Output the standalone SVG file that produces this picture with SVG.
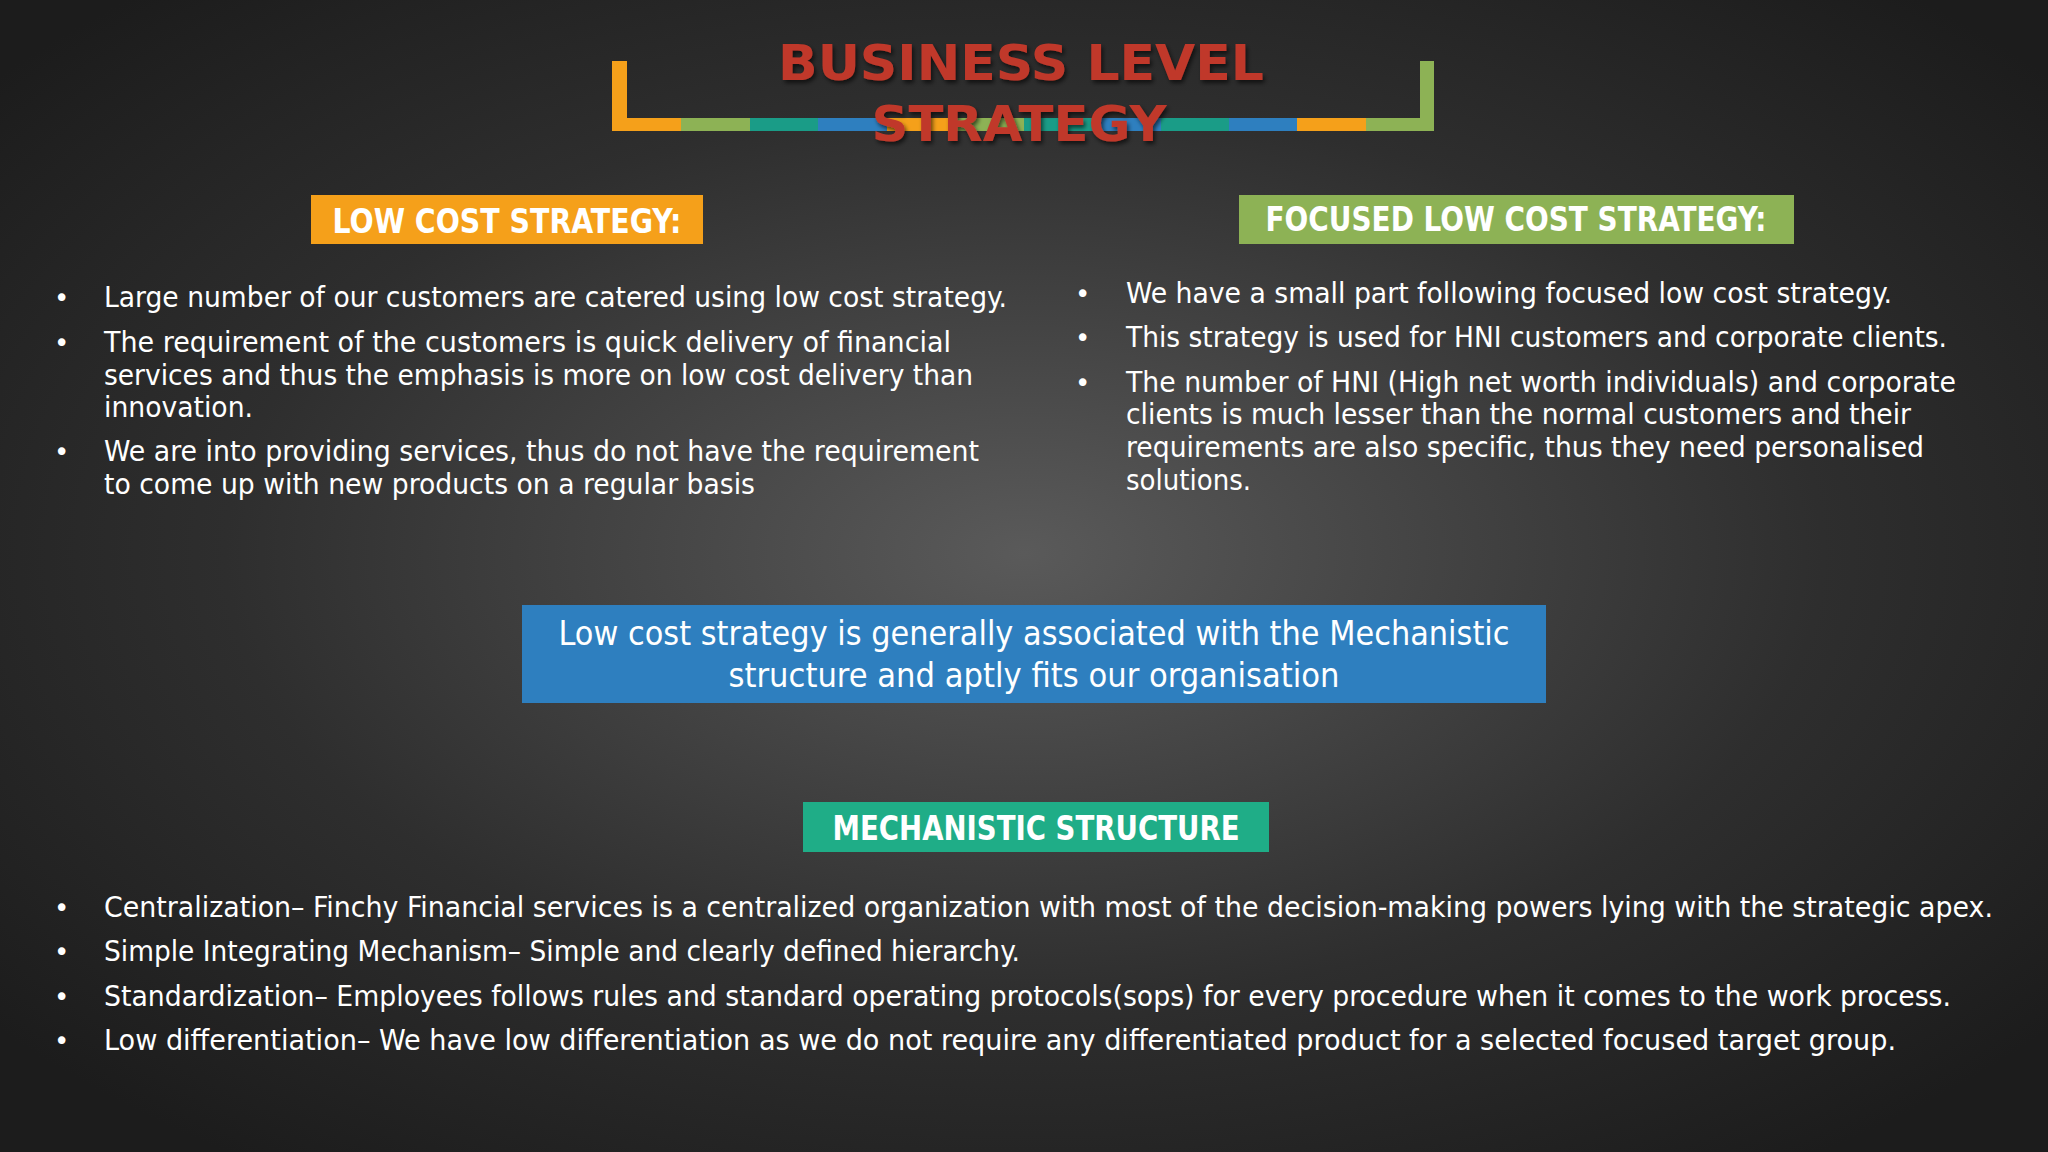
<svg xmlns="http://www.w3.org/2000/svg" width="2048" height="1152" viewBox="0 0 2048 1152">
<defs>
<radialGradient id="bg" cx="50%" cy="48%" r="65%">
<stop offset="0" stop-color="#5a5a5a"/><stop offset="0.6" stop-color="#2e2e2e"/><stop offset="1" stop-color="#1c1c1c"/>
</radialGradient>
<filter id="sh"><feDropShadow dx="2" dy="3" stdDeviation="2" flood-color="#000" flood-opacity="0.6"/></filter>
</defs>
<style>
.t{font-family:"DejaVu Sans Condensed","DejaVu Sans",sans-serif;fill:#fff;font-size:28px}
.h{font-family:"DejaVu Sans Condensed","DejaVu Sans",sans-serif;fill:#fff;font-size:33px;text-anchor:middle}
.hb{font-weight:bold}
.b{font-family:"DejaVu Sans",sans-serif;fill:#fff;font-size:26px}
</style>
<rect width="2048" height="1152" fill="url(#bg)"/>
<g id="title">
<rect x="612" y="61" width="15" height="70" fill="#f5a01a"/>
<rect x="1420" y="61" width="14" height="70" fill="#8db255"/>
<rect x="612" y="118" width="69" height="13" fill="#f5a01a"/><rect x="681" y="118" width="69" height="13" fill="#8db255"/><rect x="750" y="118" width="68" height="13" fill="#1a9c87"/><rect x="818" y="118" width="69" height="13" fill="#2e7fbf"/>
<rect x="887" y="118" width="68" height="13" fill="#f5a01a"/><rect x="955" y="118" width="69" height="13" fill="#8db255"/><rect x="1024" y="118" width="68" height="13" fill="#1a9c87"/><rect x="1092" y="118" width="69" height="13" fill="#2e7fbf"/>
<rect x="1161" y="118" width="68" height="13" fill="#1a9c87"/><rect x="1229" y="118" width="68" height="13" fill="#2e7fbf"/><rect x="1297" y="118" width="69" height="13" fill="#f5a01a"/><rect x="1366" y="118" width="68" height="13" fill="#8db255"/>
<g filter="url(#sh)" font-family="'DejaVu Sans',sans-serif" font-weight="bold" font-size="50" fill="#c0392b" text-anchor="middle">
<text x="1021" y="80" textLength="486" lengthAdjust="spacingAndGlyphs">BUSINESS LEVEL</text>
<text x="1019" y="141" textLength="295" lengthAdjust="spacingAndGlyphs">STRATEGY</text>
</g>
</g>
<g id="low-cost">
<rect x="311" y="195" width="392" height="49" fill="#f5a01a"/>
<text class="h hb" x="507" y="233" textLength="349" lengthAdjust="spacingAndGlyphs">LOW COST STRATEGY:</text>
<g class="b"><text x="54" y="307">•</text><text x="54" y="352">•</text><text x="54" y="461">•</text></g>
<text class="t" x="104" y="307" textLength="903" lengthAdjust="spacingAndGlyphs">Large number of our customers are catered using low cost strategy.</text>
<text class="t" x="104" y="352" textLength="847" lengthAdjust="spacingAndGlyphs">The requirement of the customers is quick delivery of financial</text>
<text class="t" x="104" y="385" textLength="869" lengthAdjust="spacingAndGlyphs">services and thus the emphasis is more on low cost delivery than</text>
<text class="t" x="104" y="417" textLength="149" lengthAdjust="spacingAndGlyphs">innovation.</text>
<text class="t" x="104" y="461" textLength="875" lengthAdjust="spacingAndGlyphs">We are into providing services, thus do not have the requirement</text>
<text class="t" x="104" y="494" textLength="651" lengthAdjust="spacingAndGlyphs">to come up with new products on a regular basis</text>
</g>
<g id="focused">
<rect x="1239" y="195" width="555" height="49" fill="#8db255"/>
<text class="h hb" x="1516" y="231" textLength="501" lengthAdjust="spacingAndGlyphs">FOCUSED LOW COST STRATEGY:</text>
<g class="b"><text x="1075" y="303">•</text><text x="1075" y="347">•</text><text x="1075" y="392">•</text></g>
<text class="t" x="1126" y="303" textLength="766" lengthAdjust="spacingAndGlyphs">We have a small part following focused low cost strategy.</text>
<text class="t" x="1126" y="347" textLength="821" lengthAdjust="spacingAndGlyphs">This strategy is used for HNI customers and corporate clients.</text>
<text class="t" x="1126" y="392" textLength="830" lengthAdjust="spacingAndGlyphs">The number of HNI (High net worth individuals) and corporate</text>
<text class="t" x="1126" y="424" textLength="785" lengthAdjust="spacingAndGlyphs">clients is much lesser than the normal customers and their</text>
<text class="t" x="1126" y="457" textLength="798" lengthAdjust="spacingAndGlyphs">requirements are also specific, thus they need personalised</text>
<text class="t" x="1126" y="490" textLength="125" lengthAdjust="spacingAndGlyphs">solutions.</text>
</g>
<g id="note">
<rect x="522" y="605" width="1024" height="98" fill="#2e7fbf"/>
<text class="h" x="1034" y="645" font-size="34" textLength="951" lengthAdjust="spacingAndGlyphs">Low cost strategy is generally associated with the Mechanistic</text>
<text class="h" x="1034" y="687" font-size="34" textLength="611" lengthAdjust="spacingAndGlyphs">structure and aptly fits our organisation</text>
</g>
<g id="mechanistic">
<rect x="803" y="802" width="466" height="50" fill="#1fad87"/>
<text class="h hb" x="1036" y="840" textLength="407" lengthAdjust="spacingAndGlyphs">MECHANISTIC STRUCTURE</text>
<g class="b"><text x="54" y="917">•</text><text x="54" y="961">•</text><text x="54" y="1006">•</text><text x="54" y="1050">•</text></g>
<text class="t" x="104" y="917" textLength="1889" lengthAdjust="spacingAndGlyphs">Centralization– Finchy Financial services is a centralized organization with most of the decision-making powers lying with the strategic apex.</text>
<text class="t" x="104" y="961" textLength="916" lengthAdjust="spacingAndGlyphs">Simple Integrating Mechanism– Simple and clearly defined hierarchy.</text>
<text class="t" x="104" y="1006" textLength="1847" lengthAdjust="spacingAndGlyphs">Standardization– Employees follows  rules and standard operating protocols(sops) for every procedure when it comes to the work process.</text>
<text class="t" x="104" y="1050" textLength="1792" lengthAdjust="spacingAndGlyphs">Low differentiation– We have low differentiation as we do not require any differentiated product for a selected focused target group.</text>
</g>
</svg>
